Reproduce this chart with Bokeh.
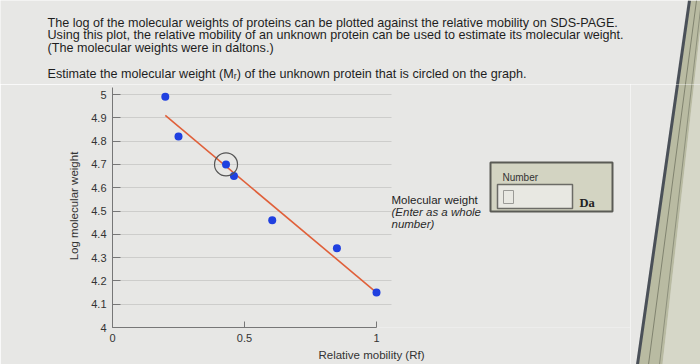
from bokeh.plotting import figure
from bokeh.embed import file_html
from bokeh.resources import INLINE
from bokeh.layouts import column, row
from bokeh.models import Range1d, FixedTicker
from bokeh.core.properties import value

# ---- chart data ----
rf = [0.20, 0.25, 0.43, 0.46, 0.605, 0.85, 1.00]
log_mw = [4.99, 4.82, 4.70, 4.65, 4.46, 4.34, 4.15]
unknown_rf = [0.43]
unknown_log_mw = [4.70]
fit_rf = [0.20, 1.00]
fit_log_mw = [4.91, 4.15]
y_ticks = [4.0, 4.1, 4.2, 4.3, 4.4, 4.5, 4.6, 4.7, 4.8, 4.9, 5.0]
y_tick_labels = ["4", "4.1", "4.2", "4.3", "4.4", "4.5", "4.6", "4.7", "4.8", "4.9", "5"]
x_ticks = [0.0, 0.5, 1.0]
x_tick_labels = ["0", "0.5", "1"]

question_lines = [
    "The log of the molecular weights of proteins can be plotted against the relative mobility on SDS-PAGE.",
    "Using this plot, the relative mobility of an unknown protein can be used to estimate its molecular weight.",
    "(The molecular weights were in daltons.)",
    "Estimate the molecular weight (M\u1d63) of the unknown protein that is circled on the graph.",
]

BG = "#e7e7e5"
FONT = value("Liberation Sans")
TXT = "#1e1e1e"


def no_align(f):
    try:
        f.frame_align = False
    except Exception:
        pass


# monitor edge decoration (absolute page pixels, y from top)
def draw_edge(f):
    f.patch([703, 740, 740, 662], [0, 0, 364, 364], color="#d6d7c8", line_color=None)
    f.patch([689, 703, 662, 637], [0, 0, 364, 364], color="#b9bba2", line_color=None)
    f.line([696, 648], [0, 364], line_color="#80836f", line_width=1)
    f.line([701, 659], [0, 364], line_color="#8d907c", line_width=1)
    f.line([689, 637], [0, 364], line_color="#4a5058", line_width=3)


# ---- top strip: question text ----
top = figure(width=700, height=84, output_backend="svg", toolbar_location=None,
             x_range=Range1d(0, 700), y_range=Range1d(84, 0),
             x_axis_type=None, y_axis_type=None,
             min_border=0, min_border_left=0, min_border_right=0, min_border_top=0, min_border_bottom=0)
no_align(top)
top.grid.visible = False
top.outline_line_color = None
top.background_fill_color = BG
top.border_fill_color = BG
draw_edge(top)
top.text(x=[47, 47, 47, 47], y=[22, 34.5, 47, 73], text=question_lines,
         text_font=FONT, text_font_size="12.6px", text_color=TXT,
         text_baseline="alphabetic", text_align="left")

# ---- main chart ----
p = figure(width=630, height=280, output_backend="svg", toolbar_location=None,
           x_range=Range1d(0, 1.962), y_range=Range1d(4, 5.043),
           min_border_left=112, min_border_right=0, min_border_top=0, min_border_bottom=37)
no_align(p)
p.outline_line_color = None
p.background_fill_color = BG
p.border_fill_color = BG
p.extra_x_ranges = {"px": Range1d(112, 630)}
p.extra_y_ranges = {"px": Range1d(327, 84)}

p.xaxis.ticker = FixedTicker(ticks=x_ticks)
p.xaxis.major_label_overrides = dict(zip(x_ticks, x_tick_labels))
p.xaxis.bounds = (0, 1)
p.yaxis.ticker = FixedTicker(ticks=y_ticks)
p.yaxis.major_label_overrides = dict(zip(y_ticks, y_tick_labels))
p.yaxis.bounds = (4, 5.031)
for ax in (p.xaxis, p.yaxis):
    ax.axis_line_color = "#777777"
    ax.major_tick_line_color = "#777777"
    ax.minor_tick_line_color = None
    ax.major_tick_out = 0
    ax.major_label_text_font = "Liberation Sans"
    ax.major_label_text_font_size = "11px"
    ax.major_label_text_color = "#333333"
    ax.axis_label_text_font = "Liberation Sans"
    ax.axis_label_text_font_size = "11.5px"
    ax.axis_label_text_font_style = "normal"
    ax.axis_label_text_color = "#333333"
p.yaxis.major_tick_in = 8
p.xaxis.major_tick_in = 6
p.yaxis.major_label_standoff = 6
p.xaxis.major_label_standoff = 6
p.xaxis.axis_label_standoff = 4
p.yaxis.axis_label_standoff = 8
p.xaxis.axis_label = "Relative mobility (Rf)"
p.yaxis.axis_label = "Log molecular weight"

p.xgrid.visible = False
p.ygrid.grid_line_color = "#cdcdcb"
p.ygrid.grid_line_width = 1
try:
    p.ygrid.cross_bounds = (0, 1.057)
    cover = False
except Exception:
    cover = True

if cover:
    p.quad(left=[390], right=[630], bottom=[327], top=[84], x_range_name="px", y_range_name="px",
           color=BG, line_color=None, level="underlay")

p.line(fit_rf, fit_log_mw, line_color="#e0603a", line_width=1.6)
p.scatter(rf, log_mw, size=8, color="#2040e0", line_color=None)
p.scatter(unknown_rf, unknown_log_mw, size=23, fill_color=None, line_color="#555555", line_width=1.2)

# answer box (page pixels)
p.text(x=[391], y=[199], text=["Molecular weight"], x_range_name="px", y_range_name="px",
       text_font=FONT, text_font_size="11.5px", text_color=TXT, text_baseline="alphabetic")
p.text(x=[391, 391], y=[211, 223], text=["(Enter as a whole", "number)"],
       x_range_name="px", y_range_name="px", text_font=FONT, text_font_size="11.5px",
       text_font_style="italic", text_color="#2a2a2a", text_baseline="alphabetic")
p.quad(left=[490], right=[612], top=[162], bottom=[211], x_range_name="px", y_range_name="px",
       fill_color="#d3d4c2", line_color="#5a5b55", line_width=2)
p.text(x=[502], y=[177], text=["Number"], x_range_name="px", y_range_name="px",
       text_font=FONT, text_font_size="10px", text_color="#333333", text_baseline="alphabetic")
p.quad(left=[497], right=[572], top=[184], bottom=[208], x_range_name="px", y_range_name="px",
       fill_color="#e8e8e2", line_color="#6b6b66", line_width=1.5)
p.quad(left=[503], right=[513], top=[190], bottom=[203], x_range_name="px", y_range_name="px",
       fill_color=None, line_color="#9a9a96", line_width=1)
p.text(x=[579], y=[202], text=["Da"], x_range_name="px", y_range_name="px",
       text_font=value("Liberation Serif"), text_font_size="12.5px", text_font_style="bold",
       text_color="#222222", text_baseline="alphabetic")

# ---- right strip (monitor edge) ----
deco = figure(width=70, height=280, output_backend="svg", toolbar_location=None,
              x_range=Range1d(630, 700), y_range=Range1d(364, 84),
              x_axis_type=None, y_axis_type=None,
              min_border=0, min_border_left=0, min_border_right=0, min_border_top=0, min_border_bottom=0)
no_align(deco)
deco.grid.visible = False
deco.outline_line_color = None
deco.background_fill_color = BG
deco.border_fill_color = BG
draw_edge(deco)

layout = column(top, row(p, deco, spacing=0), spacing=0)
open("out.html", "w").write(file_html(layout, INLINE))
